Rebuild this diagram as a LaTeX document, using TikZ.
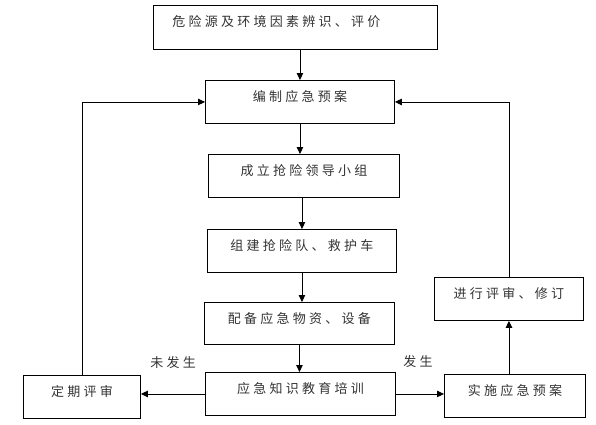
\documentclass[tikz,border=0pt]{standalone}
\usepackage{fontspec}
\newfontfamily\cjk[LetterSpace=25]{Noto Sans CJK SC}
\usetikzlibrary{arrows.meta}

\begin{document}
\begin{tikzpicture}[
    x=1pt, y=-1pt,
    font={\fontsize{13}{15}\selectfont\cjk},
    stage/.style={
        draw=black,
        line width=0.9pt,
        anchor=north west,
        inner xsep=0pt,
        inner ysep=0pt,
        text height=21.5pt,
        text depth=21.5pt,
        text=black!80
    },
    tag/.style={
        text=black!80,
        inner sep=0pt
    },
    arrow/.style={
        -{Triangle[length=7pt,width=6.5pt]},
        line width=0.9pt,
        black
    }
]
\useasboundingbox (0,0) rectangle (596,424);
% Main chain
\node[stage, minimum width=284pt, text width=246pt, align=left, text depth=22.5pt] at (153,5) (b1) {危险源及环境因素辨识、评价};
\node[stage, minimum width=189pt] at (205,80) (b2) {编制应急预案};
\node[stage, minimum width=191pt] at (208,154) (b3) {成立抢险领导小组};
\node[stage, minimum width=189pt] at (207,229) (b4) {组建抢险队、救护车};
\node[stage, minimum width=190pt, text depth=20.5pt] at (204,302) (b5) {配备应急物资、设备};
\node[stage, minimum width=190pt] at (205,372) (b6) {应急知识教育培训};
% Side branches
\node[stage, minimum width=117pt] at (23,375) (review) {定期评审};
\node[stage, minimum width=141pt] at (444,374) (impl) {实施应急预案};
\node[stage, minimum width=149pt] at (434,277) (revise) {进行评审、修订};
% Branch labels
\node[tag] at (173,363) (lblno) {未发生};
\node[tag] at (418,362) (lblyes) {发生};
% Arrows down the chain
\draw[arrow] (b2.north |- b1.south) -- (b2.north);
\draw[arrow] (b2.south) -- (b2.south |- b3.north);
\draw[arrow] (b3.south -| b4.north) -- (b4.north);
\draw[arrow] (b4.south) -- (b4.south |- b5.north);
\draw[arrow] (b5.south) -- (b5.south |- b6.north);
% Branches
\draw[arrow] (b6.west) -- (review.east |- b6.west);
\draw[arrow] (b6.east) -- (impl.west |- b6.east);
% Feedback loops
\draw[arrow] (review.north) |- (b2.west);
\draw[arrow] (revise.south |- impl.north) -- (revise.south);
\draw[arrow] (revise.north) |- (b2.east);
\end{tikzpicture}
\end{document}
